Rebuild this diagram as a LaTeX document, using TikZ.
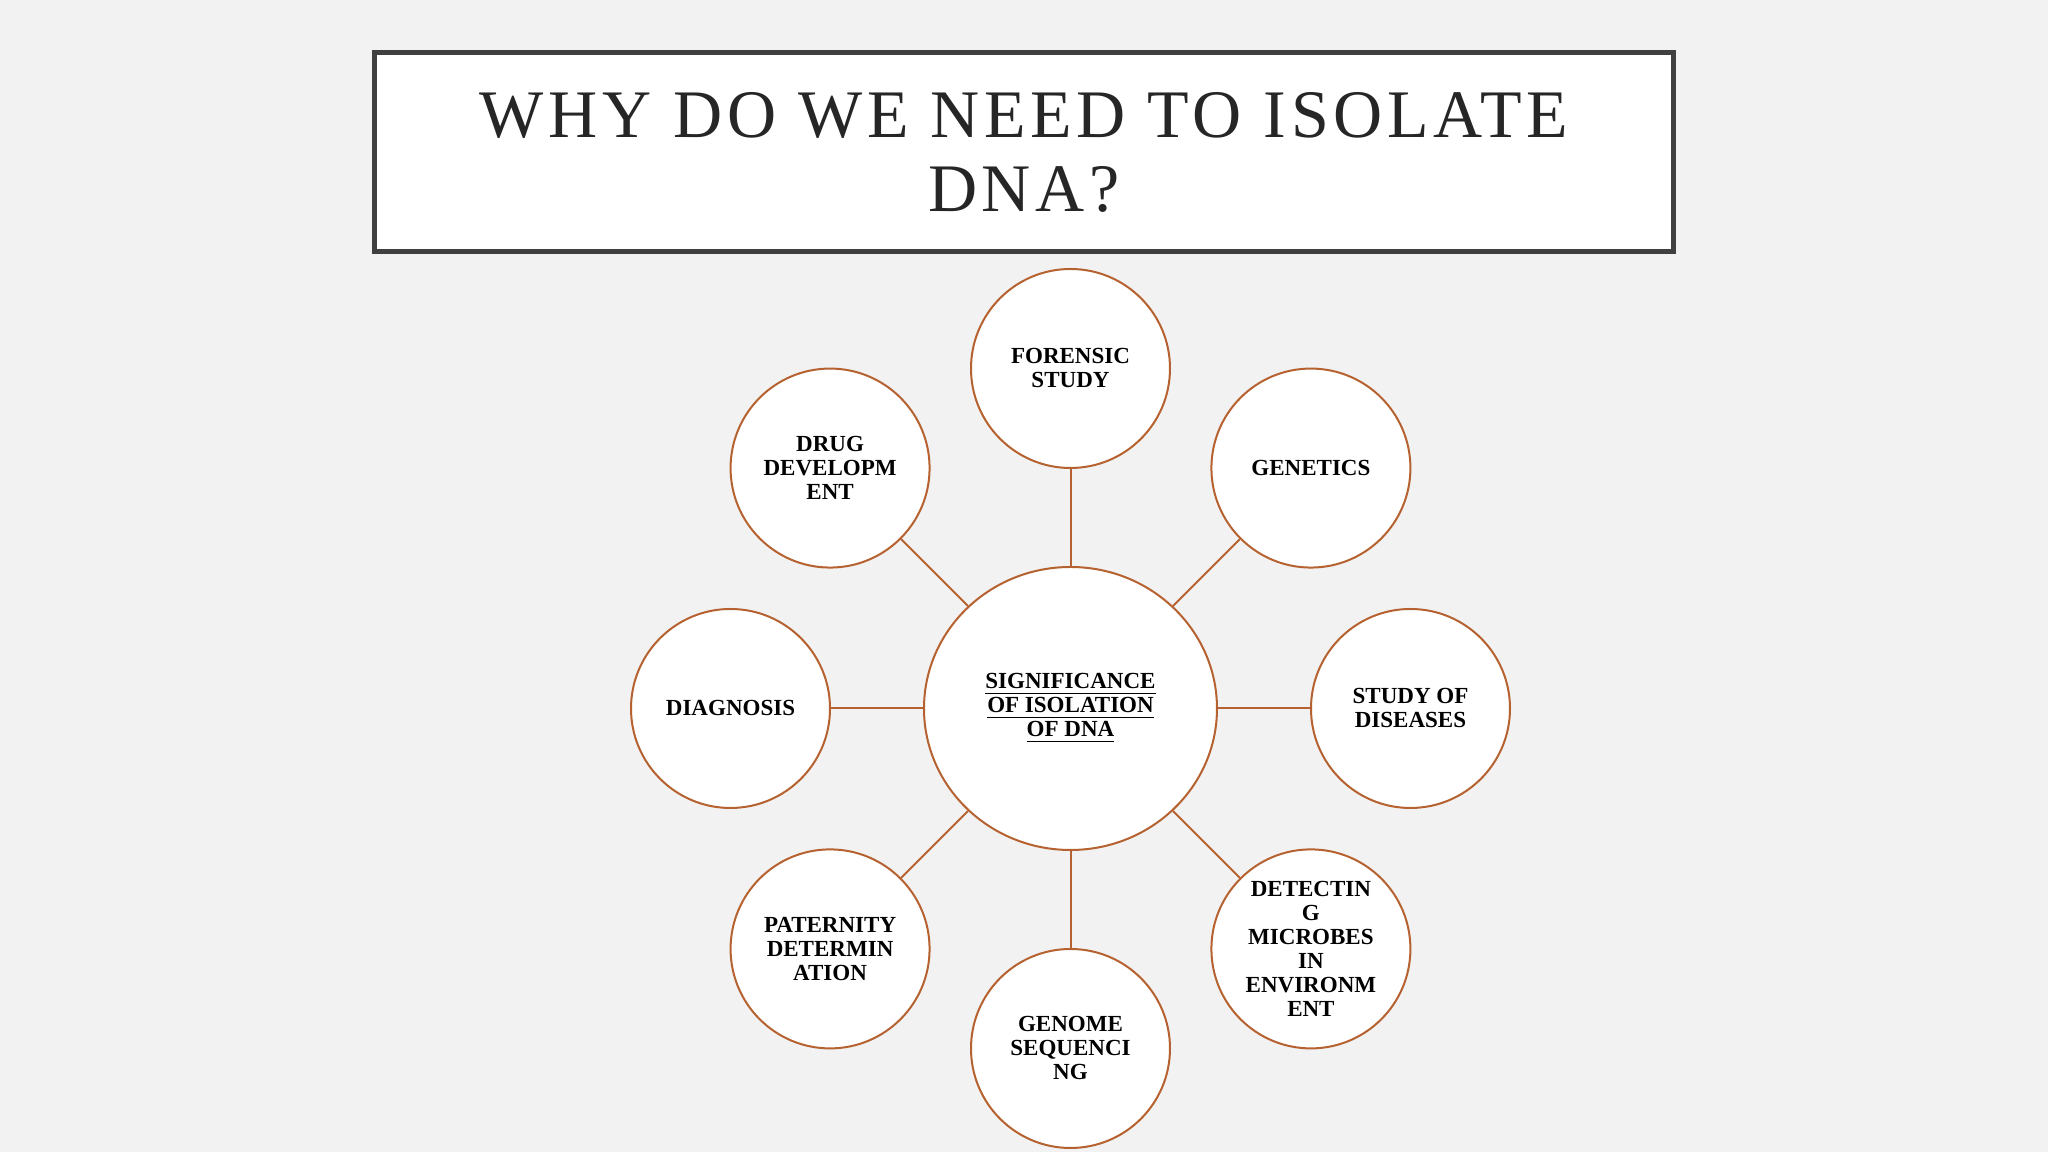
\documentclass[tikz,border=0pt]{standalone}
\usepackage{fontspec}
\usetikzlibrary{shapes.geometric}
\setmainfont{Liberation Serif}
\definecolor{slidebg}{HTML}{F2F2F2}
\definecolor{rust}{RGB}{182,98,48}
\definecolor{titlegray}{HTML}{262626}
\definecolor{framegray}{HTML}{404040}
\tikzset{
  leaf/.style={circle, draw=rust, fill=white, line width=0.02cm, minimum size=1.99cm, inner sep=0pt,
    align=center, font=\bfseries\fontsize{6.55pt}{6.83pt}\selectfont},
  hubshape/.style={leaf, ellipse, minimum width=2.93cm, minimum height=2.83cm},
  link/.style={draw=rust, line width=0.02cm}
}
\begin{document}
\begin{tikzpicture}
                \useasboundingbox (0, 0) rectangle (20.48, 11.52);

                \fill[slidebg] (0, 0) rectangle (20.48, 11.52);

                \node[draw=framegray, fill=white, line width=0.05cm, minimum width=12.99cm, minimum height=1.99cm,
                      align=center, text=titlegray,
                      font=\fontsize{19.35pt}{21.06pt}\selectfont\addfontfeatures{LetterSpace=7}]
                      (title) at (10.24, 10.00) {WHY DO WE NEED TO ISOLATE\\DNA?};

                \node[hubshape] (hub) at (10.705, 4.435)
                      {\underline{SIGNIFICANCE}\\\underline{OF ISOLATION}\\\underline{OF DNA}};

                \node[leaf] (forensic) at ([shift={(90:3.4)}]hub) {FORENSIC\\STUDY};

                \node[leaf] (genetics) at ([shift={(45:3.4)}]hub) {GENETICS};

                \node[leaf] (diseases) at ([shift={(0:3.4)}]hub) {STUDY OF\\DISEASES};

                \node[leaf] (microbes) at ([shift={(-45:3.4)}]hub) {DETECTIN\\G\\MICROBES\\IN\\ENVIRONM\\ENT};

                \node[leaf] (genome) at ([shift={(-90:3.4)}]hub) {GENOME\\SEQUENCI\\NG};

                \node[leaf] (paternity) at ([shift={(-135:3.4)}]hub) {PATERNITY\\DETERMIN\\ATION};

                \node[leaf] (diagnosis) at ([shift={(180:3.4)}]hub) {DIAGNOSIS};

                \node[leaf] (drug) at ([shift={(135:3.4)}]hub) {DRUG\\DEVELOPM\\ENT};

                \draw[link] (hub) -- (forensic);

                \draw[link] (hub) -- (genetics);

                \draw[link] (hub) -- (diseases);

                \draw[link] (hub) -- (microbes);

                \draw[link] (hub) -- (genome);

                \draw[link] (hub) -- (paternity);

                \draw[link] (hub) -- (diagnosis);

                \draw[link] (hub) -- (drug);
            \end{tikzpicture}
\end{document}
